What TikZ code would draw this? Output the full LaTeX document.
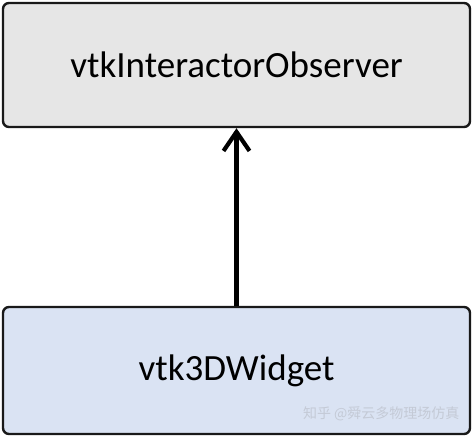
\documentclass[tikz,border=0pt]{standalone}
\usepackage{fontspec}
\setmainfont{Carlito}
\newfontfamily\cjk{Noto Sans CJK SC}
\usetikzlibrary{positioning,arrows.meta}
\definecolor{basegray}{HTML}{E6E6E6}
\definecolor{derivedblue}{HTML}{DAE3F3}
\definecolor{markgray}{HTML}{C4CAD6}

\begin{document}
\begin{tikzpicture}[x=1pt,y=-1pt,
    classbox/.style={draw=black!90, line width=2.4pt, rounded corners=6pt,
        minimum width=467pt, font=\fontsize{37}{44}\selectfont},
    inherit/.style={-{Straight Barb[length=19pt,width=26pt]}, line width=4.2pt}]
    \useasboundingbox (0,0) rectangle (474,437);
    % Base class
    \node[classbox, fill=basegray, minimum height=124pt] (observer) at (236.5,65) {vtkInteractorObserver};
    % Derived class
    \node[classbox, fill=derivedblue, minimum height=127pt] (widget) at (236.5,370.5) {vtk3DWidget};
    % Inheritance arrow
    \draw[inherit] (widget) -- (observer);
    % Watermark
    \node[font=\cjk\fontsize{14}{17}\selectfont, text=markgray, anchor=east] (mark) at (463,414) {知乎 @舜云多物理场仿真};
\end{tikzpicture}
\end{document}
